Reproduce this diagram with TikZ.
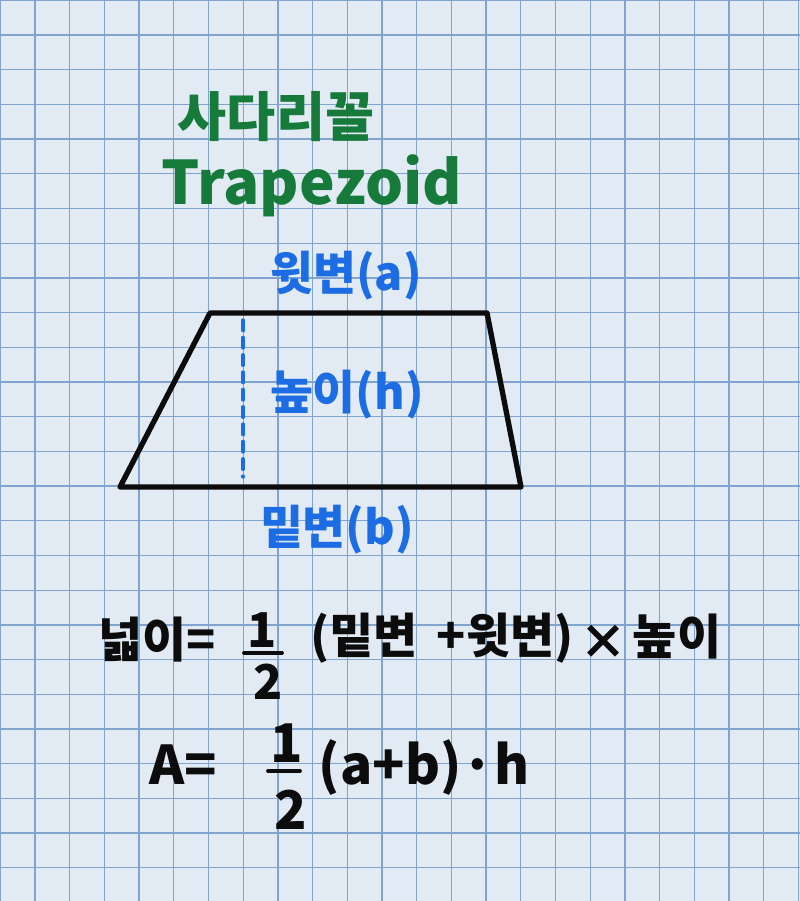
\documentclass[tikz,border=0pt]{standalone}
\usepackage{fontspec}
\newfontfamily\hand{Noto Sans CJK KR}
\definecolor{paper}{RGB}{226,234,243}
\definecolor{gridblue}{RGB}{128,164,206}
\definecolor{pengreen}{RGB}{22,122,58}
\definecolor{penblue}{RGB}{28,108,228}
\definecolor{ink}{RGB}{12,12,12}
\begin{document}
\begin{tikzpicture}[x=0.75pt, y=-0.75pt,
    gridline/.style={draw=gridblue, line width=1pt},
    greenpen/.style={text=pengreen, inner sep=0pt, font=\hand\bfseries\fontsize{40}{44}\selectfont},
    bluepen/.style={text=penblue, inner sep=0pt, font=\hand\bfseries\fontsize{35}{40}\selectfont},
    blackpen/.style={text=ink, inner sep=0pt, font=\hand\bfseries\fontsize{36}{40}\selectfont},
    bigpen/.style={blackpen, font=\hand\bfseries\fontsize{40}{44}\selectfont},
    edge/.style={draw=ink, line width=4pt, line join=round, line cap=round},
    heightline/.style={draw=penblue, line width=2.4pt, line cap=round, dash pattern=on 8pt off 5pt},
    fracbar/.style={draw=ink, line width=2.8pt, line cap=round}]
  \useasboundingbox (0,0) rectangle (800,901);
  \fill[paper] (0,0) rectangle (800,901);
  \foreach \i in {0,...,23}
    \draw[gridline] ({0.3+34.7*\i},0) -- ({0.3+34.7*\i},901);
  \foreach \j in {0,...,25}
    \draw[gridline] (0,{0.3+34.7*\j}) -- (800,{0.3+34.7*\j});

  \node[greenpen] (titlekr) at (276,117) {사다리꼴};
  \node[greenpen, font=\hand\bfseries\fontsize{45}{50}\selectfont] (titleen) at (312,186) {Trapezoid};

  \draw[edge] (120,487) 
    -- (521,487)
    -- (487,313) 
    -- (210,313)
    -- cycle;
  \draw[heightline] (243,320) 
    -- (243,477);

  \node[bluepen] (upper) at (346,276) {윗변(a)};
  \node[bluepen] (height) at (347,395) {높이(h)};
  \node[bluepen] (lower) at (337,530) {밑변(b)};

  \node[blackpen] (areaword) at (157,640) {넓이=};
  \node[blackpen] (num1) at (262,630) {1};
  \draw[fracbar] (244,653) 
    -- (282,653);
  \node[blackpen] (den1) at (268,682) {2};
  \node[blackpen] (sumpart) at (442,638) {(밑변~\,+윗변)};
  \node[blackpen] (times) at (603,642) {×};
  \node[blackpen] (heightword) at (677,637) {높이};

  \node[bigpen] (aeq) at (183,765) {A=};
  \node[bigpen] (num2) at (287,743) {1};
  \draw[fracbar] (268,771) 
    -- (300,771);
  \node[bigpen] (den2) at (291,810) {2};
  \node[bigpen] (product) at (424,768) {(a+b)·h};
\end{tikzpicture}
\end{document}
